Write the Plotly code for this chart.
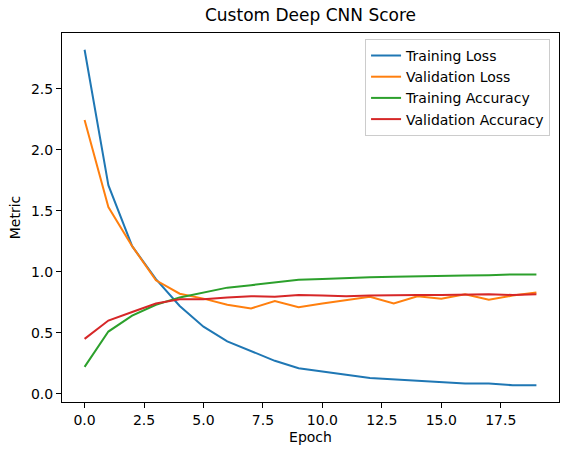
import plotly.graph_objects as go

# ------------------------------------------------------------
# Data
# ------------------------------------------------------------
epochs = list(range(20))

train_loss = [2.82, 1.71, 1.21, 0.94, 0.72, 0.55, 0.43, 0.35, 0.27, 0.21,
              0.18, 0.155, 0.13, 0.12, 0.105, 0.10, 0.085, 0.085, 0.07, 0.07]
val_loss = [2.245, 1.53, 1.21, 0.93, 0.82, 0.78, 0.73, 0.70, 0.76, 0.71,
            0.74, 0.77, 0.795, 0.74, 0.80, 0.78, 0.815, 0.77, 0.805, 0.83]
train_acc = [0.22, 0.51, 0.64, 0.73, 0.79, 0.83, 0.87, 0.89, 0.91, 0.935,
             0.94, 0.95, 0.955, 0.96, 0.965, 0.967, 0.97, 0.972, 0.978, 0.977]
val_acc = [0.45, 0.60, 0.67, 0.74, 0.775, 0.775, 0.79, 0.80, 0.795, 0.81,
           0.805, 0.80, 0.805, 0.81, 0.81, 0.81, 0.815, 0.815, 0.81, 0.815]

series = [
    ("Training Loss", train_loss, "#1f77b4"),
    ("Validation Loss", val_loss, "#ff7f0e"),
    ("Training Accuracy", train_acc, "#2ca02c"),
    ("Validation Accuracy", val_acc, "#d62728"),
]

fig = go.Figure()
for name, vals, color in series:
    fig.add_trace(go.Scatter(x=epochs, y=vals, mode="lines", name=name,
                             line=dict(color=color, width=2)))

axis_style = dict(
    showgrid=False, zeroline=False, showline=True, mirror=True,
    linecolor="black", linewidth=1, ticks="outside", ticklen=5,
    tickcolor="black", tickformat=".1f",
    tickfont=dict(size=14, color="black"),
)

fig.update_layout(
    width=567, height=455,
    margin=dict(l=62, r=8, t=33, b=53),
    plot_bgcolor="white", paper_bgcolor="white",
    font=dict(family="DejaVu Sans", color="black"),
    title=dict(text="Custom Deep CNN Score", x=0.5, xref="paper",
               xanchor="center", y=1 - 15 / 455, yanchor="middle",
               font=dict(size=17)),
    xaxis=dict(axis_style, range=[-0.95, 19.95], dtick=2.5, tick0=0,
               title=dict(text="Epoch", font=dict(size=14), standoff=5)),
    yaxis=dict(axis_style, range=[-0.0675, 2.9575], dtick=0.5, tick0=0,
               title=dict(text="Metric", font=dict(size=14), standoff=7)),
    legend=dict(x=0.982, y=0.984, xanchor="right", yanchor="top",
                bgcolor="rgba(255,255,255,0.8)", bordercolor="#cccccc",
                borderwidth=1, font=dict(size=14)),
    showlegend=True,
)

# page body has a default 8px margin; drop it so the figure sits at 0,0
fig.write_html("out.html", config={"displayModeBar": False},
               post_script="document.body.style.margin='0';")
